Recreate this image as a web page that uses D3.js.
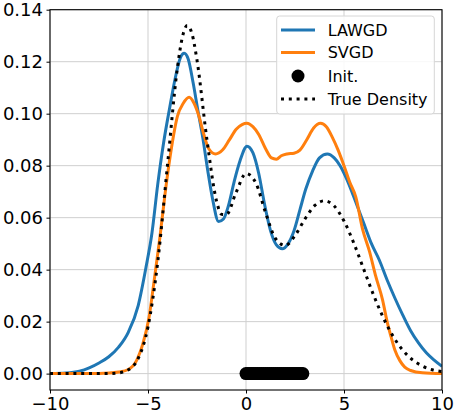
<!DOCTYPE html>
<html>
<head>
<meta charset="utf-8">
<script src="https://cdn.jsdelivr.net/npm/d3@7"></script>
<style>
  html, body { margin: 0; padding: 0; background: #ffffff; }
  svg { display: block; font-family: "DejaVu Sans", sans-serif; }
</style>
</head>
<body>
<svg id="chart" width="456" height="413"></svg>
<script>
// ---- data ----
const seriesNames = ["LAWGD", "SVGD", "Init.", "True Density"];
const xTicks = [-10, -5, 0, 5, 10];
const yTicks = [0, 0.02, 0.04, 0.06, 0.08, 0.10, 0.12, 0.14];

const lawgdX = [-10, -9.2, -8.5, -8, -7.5, -7, -6.5, -6, -5.5, -5.1, -4.8, -4.5, -4.2, -3.9, -3.6, -3.35, -3.15, -2.95, -2.7, -2.45, -2.2, -1.95, -1.7, -1.4, -1.15, -0.9, -0.6, -0.3, 0.05, 0.35, 0.65, 0.95, 1.25, 1.55, 1.85, 2.15, 2.45, 2.75, 3.05, 3.4, 3.75, 4.15, 4.5, 4.8, 5.1, 5.4, 5.7, 6.0, 6.4, 6.8, 7.2, 7.6, 8.0, 8.4, 8.8, 9.2, 9.6, 10];
const lawgdY = [0, 0.0002, 0.0009, 0.0022, 0.0041, 0.0065, 0.0102, 0.0160, 0.0262, 0.041, 0.054, 0.073, 0.089, 0.102, 0.114, 0.1215, 0.1232, 0.121, 0.112, 0.101, 0.0905, 0.078, 0.067, 0.0585, 0.0595, 0.0645, 0.074, 0.082, 0.0875, 0.085, 0.077, 0.065, 0.055, 0.0495, 0.048, 0.050, 0.055, 0.063, 0.071, 0.078, 0.083, 0.0845, 0.083, 0.080, 0.0755, 0.070, 0.064, 0.058, 0.050, 0.0437, 0.036, 0.029, 0.0225, 0.0165, 0.0118, 0.008, 0.0052, 0.0028];

const svgdX = [-10, -9, -8, -7, -6.5, -6, -5.6, -5.25, -4.95, -4.7, -4.4, -4.1, -3.8, -3.5, -3.2, -2.9, -2.65, -2.4, -2.15, -1.9, -1.55, -1.2, -0.85, -0.5, -0.2, 0.05, 0.35, 0.65, 1.0, 1.3, 1.55, 1.8, 2.1, 2.45, 2.75, 3.1, 3.45, 3.8, 4.1, 4.4, 4.7, 5.0, 5.3, 5.6, 5.95, 6.3, 6.6, 6.97, 7.2, 7.4, 7.6, 7.85, 8.1, 8.4, 9.0, 10];
const svgdY = [0, 0, 0, 0.0002, 0.0006, 0.0016, 0.0048, 0.0118, 0.0215, 0.035, 0.052, 0.071, 0.087, 0.099, 0.104, 0.1063, 0.104, 0.099, 0.092, 0.0865, 0.0845, 0.086, 0.0899, 0.094, 0.0958, 0.0963, 0.095, 0.092, 0.0865, 0.083, 0.0825, 0.0838, 0.0845, 0.0848, 0.086, 0.090, 0.0945, 0.0963, 0.095, 0.091, 0.086, 0.080, 0.0735, 0.068, 0.0555, 0.047, 0.038, 0.0283, 0.020, 0.0142, 0.009, 0.005, 0.0025, 0.0012, 0.0003, 0];

const trueX = [-10, -9.5, -9, -8.5, -8, -7.5, -7, -6.5, -6, -5.5, -5, -4.5, -4, -3.5, -3.25, -3, -2.75, -2.5, -2, -1.5, -1.25, -1, -0.5, 0, 0.5, 1, 1.5, 2, 2.5, 3, 3.5, 4, 4.5, 5, 5.5, 6, 6.5, 7, 7.5, 8, 8.5, 9, 9.5, 10];
const trueY = [0, 0, 0, 0, 0, 0.000005, 0.000045, 0.00029, 0.00148, 0.00584, 0.0180, 0.0432, 0.0807, 0.1176, 0.1293, 0.1339, 0.1306, 0.1206, 0.0904, 0.0663, 0.0613, 0.0612, 0.0698, 0.0770, 0.0734, 0.0619, 0.0520, 0.0493, 0.0531, 0.0594, 0.0646, 0.0665, 0.0645, 0.0587, 0.0502, 0.0403, 0.0304, 0.0216, 0.0144, 0.0090, 0.0053, 0.0029, 0.0015, 0.0008];

const initX = [0.0, 0.1, 0.2, 0.3, 0.4, 0.5, 0.6, 0.7, 0.8, 0.9, 1.0, 1.1, 1.2, 1.3, 1.4, 1.5, 1.6, 1.7, 1.8, 1.9, 2.0, 2.1, 2.2, 2.3, 2.4, 2.5, 2.6, 2.7, 2.8, 2.9];
const initY = initX.map(() => 0);

const colors = { lawgd: "#1f77b4", svgd: "#ff7f0e", init: "#000000", truth: "#000000" };

// ---- layout ----
const svg = d3.select("#chart");
const pL = 50, pR = 442, pT = 9.7, pB = 390;
const x = d3.scaleLinear().domain([-10, 10]).range([pL, pR]);
const y = d3.scaleLinear().domain([-0.0063, 0.14]).range([pB, pT]);

const plot = svg.append("g");
plot.append("defs").append("clipPath").attr("id", "clip")
  .append("rect").attr("x", pL).attr("y", pT).attr("width", pR - pL).attr("height", pB - pT);

// grid
const grid = plot.append("g");
grid.selectAll("line.vx").data(xTicks).join("line")
  .attr("x1", d => x(d)).attr("x2", d => x(d)).attr("y1", pT).attr("y2", pB)
  .attr("stroke", "#cfcfcf").attr("stroke-width", 1);
grid.selectAll("line.hy").data(yTicks).join("line")
  .attr("x1", pL).attr("x2", pR).attr("y1", d => y(d)).attr("y2", d => y(d))
  .attr("stroke", "#cfcfcf").attr("stroke-width", 1);

// lines
const zip = (xs, ys) => xs.map((v, i) => [v, ys[i]]);
const line = d3.line().x(d => x(d[0])).y(d => y(d[1])).curve(d3.curveMonotoneX);
const marks = plot.append("g").attr("clip-path", "url(#clip)");
marks.append("path").datum(zip(lawgdX, lawgdY)).attr("d", line)
  .attr("fill", "none").attr("stroke", colors.lawgd).attr("stroke-width", 3).attr("stroke-linejoin", "round");
marks.append("path").datum(zip(svgdX, svgdY)).attr("d", line)
  .attr("fill", "none").attr("stroke", colors.svgd).attr("stroke-width", 3).attr("stroke-linejoin", "round");
marks.selectAll("circle.init").data(zip(initX, initY)).join("circle")
  .attr("cx", d => x(d[0])).attr("cy", d => y(d[1])).attr("r", 6.5).attr("fill", colors.init);
marks.append("path").datum(zip(trueX, trueY)).attr("d", line)
  .attr("fill", "none").attr("stroke", colors.truth).attr("stroke-width", 3).attr("stroke-dasharray", "3,4.8");

// axes
const xAxis = d3.axisBottom(x).tickValues(xTicks).tickSize(3.5).tickPadding(3.5).tickFormat(d3.format("d"));
const yAxis = d3.axisLeft(y).tickValues(yTicks).tickSize(3.5).tickPadding(3.5).tickFormat(d3.format(".2f"));
const gx = svg.append("g").attr("transform", `translate(0,${pB})`).call(xAxis);
const gy = svg.append("g").attr("transform", `translate(${pL},0)`).call(yAxis);
[gx, gy].forEach(g => {
  g.select(".domain").remove();
  g.selectAll(".tick line").attr("stroke", "#000").attr("stroke-width", 1);
  g.selectAll(".tick text").attr("fill", "#000").style("font-size", "18px").style("font-family", "DejaVu Sans");
});

// frame
svg.append("rect").attr("x", pL).attr("y", pT).attr("width", pR - pL).attr("height", pB - pT)
  .attr("fill", "none").attr("stroke", "#000").attr("stroke-width", 1.1);

// legend
const lg = svg.append("g");
lg.append("rect").attr("x", 276.7).attr("y", 16).attr("width", 157.6).attr("height", 98).attr("rx", 3)
  .attr("fill", "#fff").attr("fill-opacity", 0.85).attr("stroke", "#d6d6d6").attr("stroke-width", 1);
const rows = [30, 52.5, 76, 99];
const hx1 = 281, hx2 = 315, tx = 327.7;
lg.append("line").attr("x1", hx1).attr("x2", hx2).attr("y1", rows[0]).attr("y2", rows[0]).attr("stroke", colors.lawgd).attr("stroke-width", 3);
lg.append("line").attr("x1", hx1).attr("x2", hx2).attr("y1", rows[1]).attr("y2", rows[1]).attr("stroke", colors.svgd).attr("stroke-width", 3);
lg.append("circle").attr("cx", (hx1 + hx2) / 2).attr("cy", rows[2]).attr("r", 6.5).attr("fill", colors.init);
lg.append("line").attr("x1", hx1).attr("x2", hx2).attr("y1", rows[3]).attr("y2", rows[3]).attr("stroke", colors.truth).attr("stroke-width", 3).attr("stroke-dasharray", "3,4.8");
lg.selectAll("text").data(seriesNames).join("text")
  .attr("x", tx).attr("y", (d, i) => rows[i]).attr("dy", "0.36em")
  .attr("fill", "#000").style("font-size", "16px").style("font-family", "DejaVu Sans")
  .text(d => d);
</script>
</body>
</html>
